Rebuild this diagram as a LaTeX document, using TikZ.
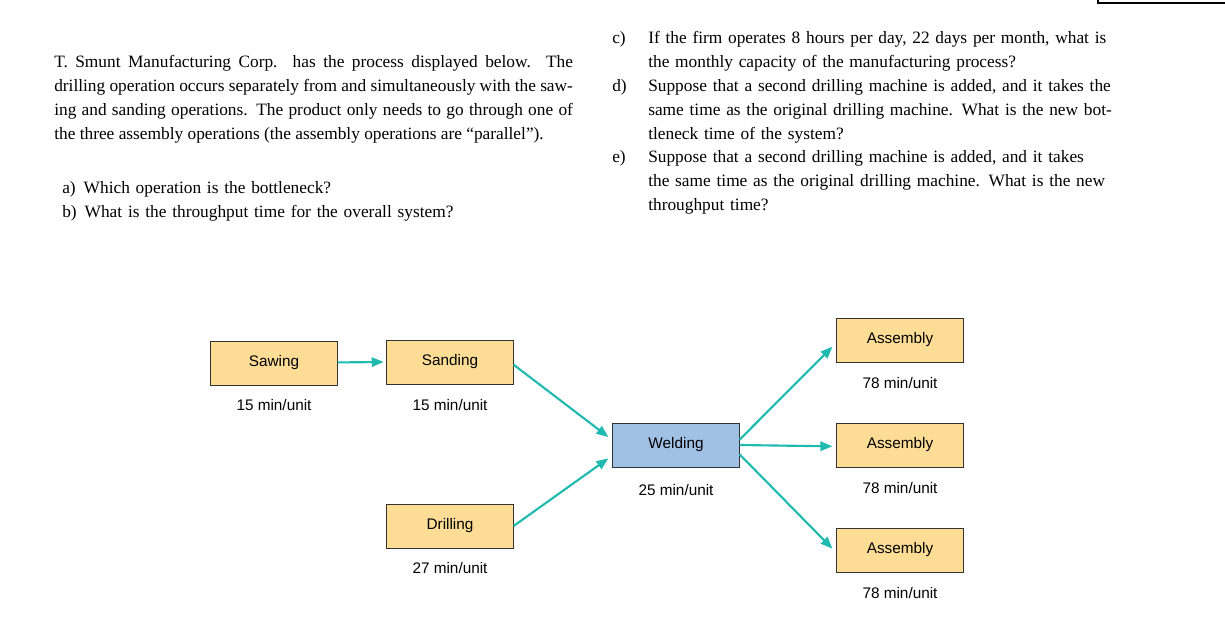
\documentclass[tikz,border=0pt]{standalone}
\usepackage{fontspec}
\setmainfont{Liberation Serif}
\newfontfamily\sansfont{Liberation Sans}
\usetikzlibrary{positioning, arrows.meta}
\definecolor{flowteal}{RGB}{32,186,176}
\definecolor{stepfill}{RGB}{253,221,150}
\definecolor{weldfill}{RGB}{160,192,228}
\tikzset{
		>=Stealth
	}

\begin{document}
\begin{tikzpicture}[x=0.75pt, y=-0.75pt,
					process/.style={draw=black!80, fill=stepfill, minimum width=95pt, minimum height=33pt, font=\sansfont\fontsize{11.5}{13}\selectfont},
					rate/.style={font=\sansfont\fontsize{11.5}{13}\selectfont},
					flow/.style={->, draw=flowteal, line width=1.6pt, >={Triangle[length=9pt, width=7pt]}},
					para/.style={anchor=north west, inner sep=0pt, align=justify, font=\fontsize{13}{18}\selectfont}]
		\useasboundingbox (0,0) rectangle (1225,633);
		\node[anchor=south west, font=\sansfont\fontsize{13}{15}\selectfont] (title) at (120,4) {Question 1a \& 1b};
		\coordinate (frameA) at (1098,0);
		\coordinate (frameB) at (1098,3);
		\coordinate (frameC) at (1225,3);
		\draw[line width=2pt] (frameA) -- (frameB) -- (frameC);
		% question text
		\node[para, text width=389pt] (intro) at (54,55) {T. Smunt Manufacturing Corp. has the process displayed below. The drilling operation occurs separately from and simultaneously with the sawing and sanding operations. The product only needs to go through one of the three assembly operations (the assembly operations are ``parallel'').};
		\node[para, align=left, text width=389pt] (qab) at (62,181) {a)\hspace{6pt}Which operation is the bottleneck?\\b)\hspace{6pt}What is the throughput time for the overall system?};
		\node[para, align=left, text width=30pt] (labc) at (612,31) {c)};
		\node[para, align=left, text width=360pt] (qc) at (648,31) {If the firm operates 8 hours per day, 22 days per month, what is the monthly capacity of the manufacturing process?};
		\node[para, align=left, text width=30pt] (labd) at (612,79) {d)};
		\node[para, align=left, text width=360pt] (qd) at (648,79) {Suppose that a second drilling machine is added, and it takes the same time as the original drilling machine. What is the new bottleneck time of the system?};
		\node[para, align=left, text width=30pt] (labe) at (612,150) {e)};
		\node[para, align=left, text width=360pt] (qe) at (648,150) {Suppose that a second drilling machine is added, and it takes the same time as the original drilling machine. What is the new throughput time?};
		% process
		\node[process] (sawing) at (274,363) {Sawing};
		\node[process] (sanding) at (450,362) {Sanding};
		\node[process] (drilling) at (450,526) {Drilling};
		\node[process, fill=weldfill] (welding) at (676,445) {Welding};
		\node[process] (asm1) at (900,340) {Assembly};
		\node[process] (asm2) at (900,445) {Assembly};
		\node[process] (asm3) at (900,550) {Assembly};
		\node[rate] (rsaw) at (274,405) {15 min/unit};
		\node[rate] (rsand) at (450,405) {15 min/unit};
		\node[rate] (rdrill) at (450,568) {27 min/unit};
		\node[rate] (rweld) at (676,490) {25 min/unit};
		\node[rate] (rasm1) at (900,383) {78 min/unit};
		\node[rate] (rasm2) at (900,488) {78 min/unit};
		\node[rate] (rasm3) at (900,593) {78 min/unit};
		\draw[flow] (sawing) -- ([xshift=-2pt]sanding.west);
		\draw[flow] ([yshift=-2pt]sanding.east) -- ([xshift=-3pt, yshift=6pt]welding.west);
		\draw[flow] (drilling.east) -- ([xshift=-3pt, yshift=-10pt]welding.west);
		\draw[flow] ([yshift=4pt]welding.east) -- ([xshift=-3pt, yshift=-5pt]asm1.west);
		\draw[flow] (welding.east) -- ([xshift=-3pt, yshift=-1pt]asm2.west);
		\draw[flow] ([yshift=-7pt]welding.east) -- ([xshift=-3pt, yshift=1pt]asm3.west);
	\end{tikzpicture}
\end{document}
